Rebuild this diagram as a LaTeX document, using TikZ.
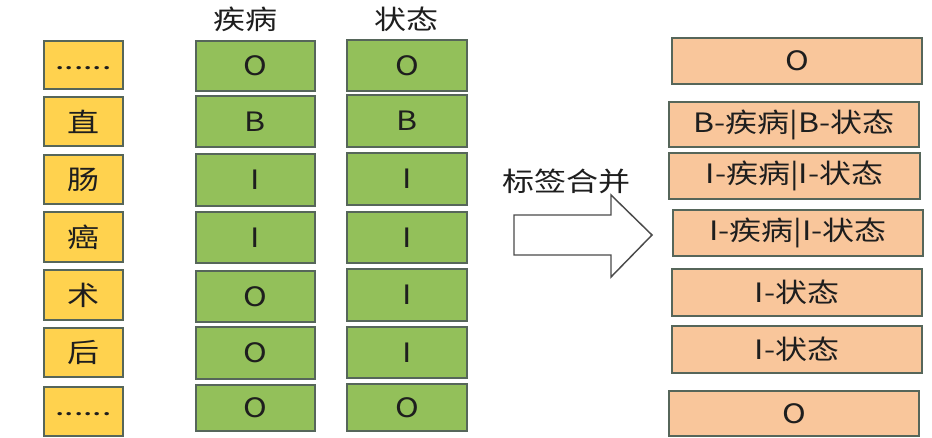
\documentclass[tikz,border=0pt]{standalone}
\usepackage{fontspec}
\setmainfont{Noto Sans CJK SC}
\usepackage{graphicx}
\definecolor{yel}{HTML}{FFD24E}
\definecolor{grn}{HTML}{93C05A}
\definecolor{org}{HTML}{F9C69B}
\definecolor{bord}{HTML}{56665A}
\definecolor{ink}{HTML}{1E1E1E}
\newcommand\sx[1]{\scalebox{1.2}[1]{#1}}
\newcommand\bx[7]{\node[#2, minimum width={(#5-#3)*0.75pt}, minimum height={(#6-#4)*0.75pt}] (#1) at ({(#3+#5)/2},{(#4+#6)/2}) {\sx{#7}};}
\newcommand\mydots{\raisebox{-0.6ex}{\scalebox{1.05}[0.9]{......}}}
\tikzset{
  cell/.style={draw=bord, line width=1.1pt, inner sep=0pt, text=ink, font=\fontsize{20pt}{22pt}\selectfont},
  ybox/.style={cell, fill=yel},
  gbox/.style={cell, fill=grn},
  obox/.style={cell, fill=org},
  head/.style={inner sep=0pt, text=ink, font=\fontsize{20pt}{22pt}\selectfont},
}
\begin{document}
\begin{tikzpicture}[x=0.75pt,y=-0.75pt]
\useasboundingbox (0,0) rectangle (932,438);
\fill[white] (0,0) rectangle (932,438);
% headers
\node[head] (h1) at (245,19) {\sx{疾病}};
\node[head] (h2) at (406,19) {\sx{状态}};
% yellow tokens
\bx{y1}{ybox}{44}{41}{123}{89}{\mydots}
\bx{y2}{ybox}{44}{97}{123}{146}{直}
\bx{y3}{ybox}{44}{155}{123}{204}{肠}
\bx{y4}{ybox}{44}{212}{123}{262}{癌}
\bx{y5}{ybox}{44}{270}{123}{320}{术}
\bx{y6}{ybox}{44}{328}{123}{377}{后}
\bx{y7}{ybox}{44}{387}{123}{436}{\mydots}
% disease column
\bx{d1}{gbox}{196}{41}{315}{91}{O}
\bx{d2}{gbox}{196}{96}{315}{147}{B}
\bx{d3}{gbox}{196}{154}{315}{206}{I}
\bx{d4}{gbox}{196}{212}{315}{263}{I}
\bx{d5}{gbox}{196}{271}{315}{322}{O}
\bx{d6}{gbox}{196}{327}{315}{379}{O}
\bx{d7}{gbox}{196}{385}{315}{431}{O}
% state column
\bx{s1}{gbox}{347}{40}{467}{91}{O}
\bx{s2}{gbox}{347}{95}{467}{147}{B}
\bx{s3}{gbox}{347}{153}{467}{205}{I}
\bx{s4}{gbox}{347}{212}{467}{263}{I}
\bx{s5}{gbox}{347}{269}{467}{321}{I}
\bx{s6}{gbox}{347}{327}{467}{378}{I}
\bx{s7}{gbox}{347}{384}{467}{431}{O}
% merged column
\bx{m1}{obox}{672}{38}{922}{84}{O}
\bx{m2}{obox}{669}{102}{919}{147}{B-疾病|B-状态}
\bx{m3}{obox}{669}{153}{920}{199}{I-疾病|I-状态}
\bx{m4}{obox}{673}{210}{923}{256}{I-疾病|I-状态}
\bx{m5}{obox}{672}{269}{922}{316}{I-状态}
\bx{m6}{obox}{672}{326}{922}{373}{I-状态}
\bx{m7}{obox}{669}{391}{919}{436}{O}
% arrow
\node[head] (lab) at (566,181) {\sx{标签合并}};
\draw[draw=ink!80, line width=1.1pt, fill=white, line join=miter]
  (514,215) -- (611,215) -- (611,195) -- (652,235) -- (611,277) -- (611,255) -- (514,255) -- cycle;
\end{tikzpicture}
\end{document}
